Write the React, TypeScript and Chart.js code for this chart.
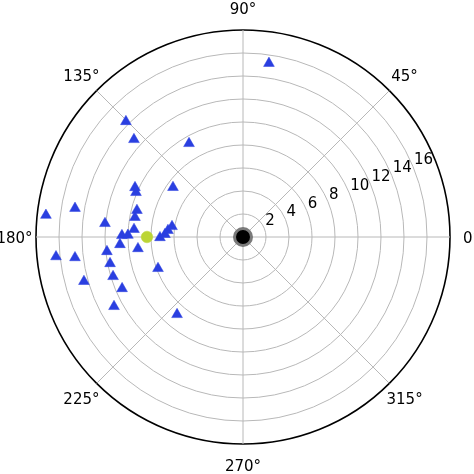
import React, { useEffect, useRef } from 'react';
import { Chart, registerables } from 'chart.js';

Chart.register(...registerables);

// Blue triangles: radius and angle (degrees, counter-clockwise from east)
const triangleR = [
  15.27, 14.3, 12.72, 9.39, 10.33, 10.08, 7.46, 17.24, 14.82, 12.06, 9.51,
  9.55, 9.5, 6.24, 10.53, 10.01, 7.22, 6.79, 6.55, 16.35, 14.72, 11.9,
  11.79, 11.81, 14.36, 11.43, 12.74, 7.88, 8.85, 10.72, 9.19,
];
const triangleTheta = [
  81.5, 135.4, 138.2, 120.0, 155.4, 157.4, 144.7, 173.7, 170.3, 174.4, 165.9,
  169.7, 176.0, 171.6, 179.3, 179.1, 180.4, 178.1, 175.0, 186.0, 187.0, 186.1,
  191.3, 196.9, 195.6, 203.1, 208.3, 200.3, 229.6, 183.5, 186.3,
];
// Yellow-green circle
const highlightR = [8.35];
const highlightTheta = [180];
// Centre marker
const centerR = [0];
const centerTheta = [0];

const radialTicks = [2, 4, 6, 8, 10, 12, 14, 16];
const angleTicks = [0, 45, 90, 135, 180, 225, 270, 315];
const R_MAX = 18;
const R_STEP = 2;
const RADIAL_LABEL_ANGLE = 22.5;

const STEP = 0.1; // degrees per angular slot
const N = Math.round(360 / STEP);
const slotLabels = Array.from({ length: N }, (_, i) => String(i));

function slotOf(theta: number): number {
  const screen = (((360 - theta) % 360) + 360) % 360;
  return Math.round(screen / STEP) % N;
}

function buildLayers(rs: number[], ths: number[]): (number | null)[][] {
  const out: (number | null)[][] = [];
  rs.forEach((r, i) => {
    const s = slotOf(ths[i]);
    let layer = out.find((l) => l[s] === null);
    if (!layer) {
      layer = new Array(N).fill(null);
      out.push(layer);
    }
    layer[s] = r;
  });
  return out;
}

const labelPlugin = {
  id: 'polarLabels',
  afterDraw(chart: any) {
    const s = chart.scales.r;
    const ctx = chart.ctx;
    ctx.save();
    ctx.fillStyle = '#000000';
    ctx.font = '15px "DejaVu Sans"';
    ctx.textAlign = 'left';
    ctx.textBaseline = 'alphabetic';
    const a0 = (RADIAL_LABEL_ANGLE * Math.PI) / 180;
    radialTicks.forEach((v) => {
      const d = s.getDistanceFromCenterForValue(v);
      ctx.fillText(String(v), s.xCenter + Math.cos(a0) * d + 1, s.yCenter - Math.sin(a0) * d - 3);
    });
    ctx.textAlign = 'center';
    angleTicks.forEach((t) => {
      const d = s.drawingArea + 21.5;
      const a = (t * Math.PI) / 180;
      ctx.fillText(`${t}°`, s.xCenter + Math.cos(a) * d, s.yCenter - Math.sin(a) * d + 5.5);
    });
    ctx.restore();
  },
};

export default function App() {
  const ref = useRef<HTMLCanvasElement>(null);
  useEffect(() => {
    if (!ref.current) return;
    const common = { showLine: false, fill: false, borderWidth: 0 };
    const triLayers = buildLayers(triangleR, triangleTheta).map((data) => ({
      ...common,
      data,
      pointStyle: 'triangle',
      pointRadius: 6.2,
      pointBackgroundColor: '#2a3fe0',
      pointBorderColor: '#2a3fe0',
      pointBorderWidth: 0.5,
      order: 3,
    }));
    const hiLayers = buildLayers(highlightR, highlightTheta).map((data) => ({
      ...common,
      data,
      pointStyle: 'circle',
      pointRadius: 5.8,
      pointBackgroundColor: '#bcd535',
      pointBorderColor: '#bcd535',
      pointBorderWidth: 0.5,
      order: 2,
    }));
    const cLayers = buildLayers(centerR, centerTheta).map((data) => ({
      ...common,
      data,
      pointStyle: 'circle',
      pointRadius: 8.5,
      pointBackgroundColor: '#000000',
      pointBorderColor: '#7a7a7a',
      pointBorderWidth: 3,
      order: 1,
    }));
    const chart = new Chart(ref.current, {
      type: 'radar',
      data: { labels: slotLabels, datasets: [...triLayers, ...hiLayers, ...cLayers] as any },
      options: {
        animation: false,
        responsive: false,
        events: [],
        layout: { padding: { left: 36, right: 24, top: 30, bottom: 30 } },
        plugins: { legend: { display: false }, tooltip: { enabled: false } },
        scales: {
          r: {
            type: 'radialLinear',
            min: 0,
            max: R_MAX,
            startAngle: 90,
            ticks: { display: false, stepSize: R_STEP },
            pointLabels: { display: false },
            grid: {
              circular: true,
              color: (c: any) => (c.tick && c.tick.value === R_MAX ? '#000000' : '#b8b8b8'),
              lineWidth: (c: any) => (c.tick && c.tick.value === R_MAX ? 1.6 : 1),
            },
            angleLines: {
              display: true,
              color: '#b8b8b8',
              lineWidth: (c: any) => (c.index % Math.round(45 / STEP) === 0 ? 1 : 0),
            },
          },
        } as any,
      },
      plugins: [labelPlugin],
    });
    return () => chart.destroy();
  }, []);
  return (
    <div style={{ position: 'absolute', left: 0, top: 0, width: 474, height: 474 }}>
      <canvas ref={ref} width={474} height={474} />
    </div>
  );
}
